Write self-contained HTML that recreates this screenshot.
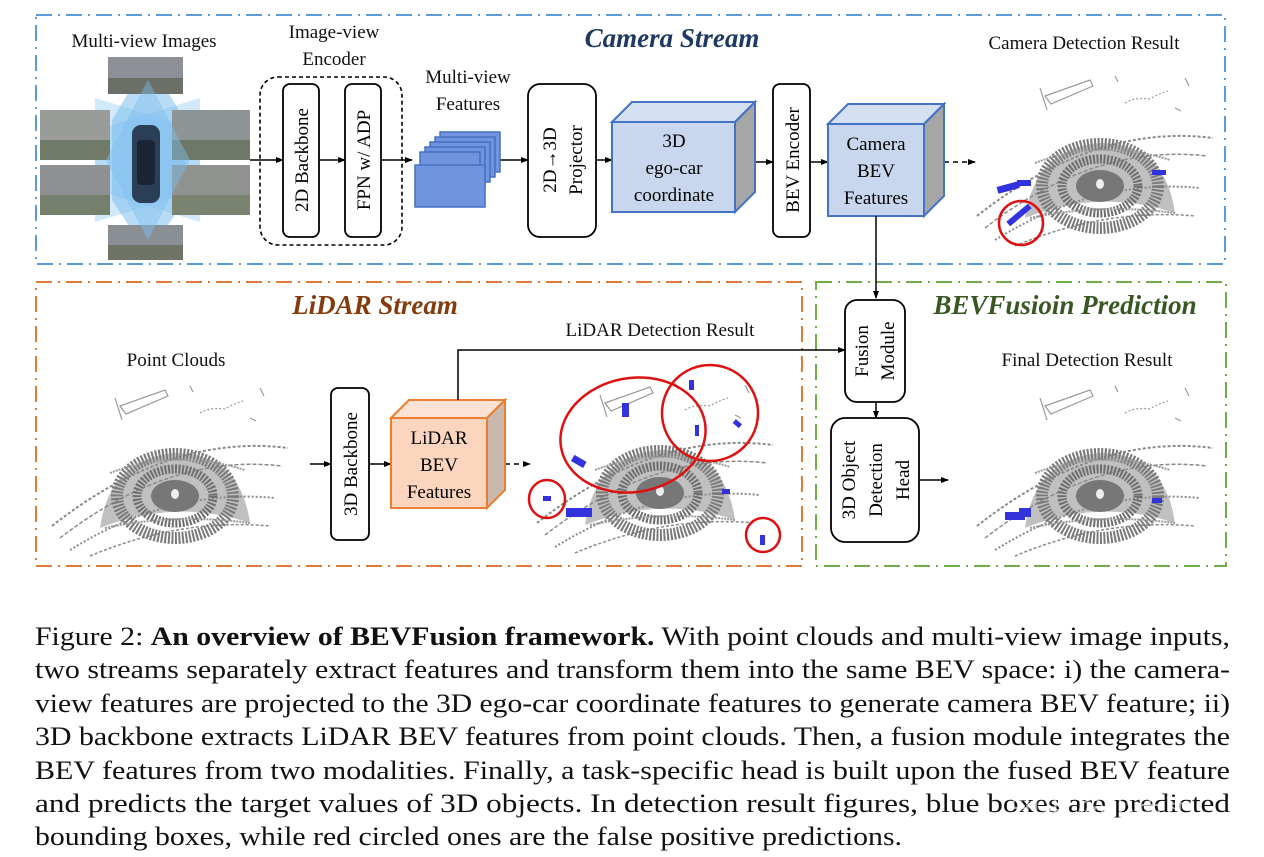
<!DOCTYPE html>
<html><head><meta charset="utf-8">
<style>
html,body{margin:0;padding:0;background:#fff;}
svg{display:block;font-family:"Liberation Serif","Times New Roman",Times,serif;}
svg text{font-family:"Liberation Serif","Times New Roman",Times,serif;}
</style></head>
<body>
<svg width="1264" height="857" viewBox="0 0 1264 857" xmlns="http://www.w3.org/2000/svg" font-family="Liberation Serif, Times New Roman, serif" style="font-family:'Liberation Serif','Times New Roman',Times,serif">
<defs>
<marker id="ah" markerWidth="8" markerHeight="8" refX="7" refY="4" orient="auto" markerUnits="userSpaceOnUse">
<path d="M0,1 L8,4 L0,7 z" fill="#000"/></marker>
<g id="pc">
 <g fill="none" stroke="#8a8a8a">
  <path d="M2,148 Q120,55 238,70" stroke-width="2" stroke-dasharray="3 2"/>
  <path d="M10,160 Q120,75 232,88" stroke-width="1.5" stroke-dasharray="4 2"/>
  <path d="M20,172 Q120,110 225,120" stroke-width="2" stroke-dasharray="2 2"/>
  <path d="M40,178 Q130,140 220,148" stroke-width="1.5" stroke-dasharray="3 2"/>
 </g>
 <path d="M50,150 Q60,80 125,75 Q190,75 200,145 Q125,120 50,150 z" fill="#8c8c8c" opacity="0.55"/>
 <ellipse cx="125" cy="118" rx="58" ry="42" fill="none" stroke="#7a7a7a" stroke-width="12" stroke-dasharray="2 1.5"/>
 <ellipse cx="125" cy="118" rx="38" ry="27" fill="none" stroke="#6e6e6e" stroke-width="9" stroke-dasharray="2 1.5"/>
 <ellipse cx="125" cy="118" rx="24" ry="16" fill="#777"/>
 <ellipse cx="125" cy="116" rx="4" ry="5" fill="#eee"/>
 <path d="M60,95 Q125,70 195,92" fill="none" stroke="#999" stroke-width="2" stroke-dasharray="2 1"/>
 <path d="M55,150 Q125,135 200,145" fill="none" stroke="#999" stroke-width="2" stroke-dasharray="2 1"/>
 <g fill="none" stroke="#999" stroke-width="1.2">
  <path d="M70,28 L115,12 L118,18 L76,36 z"/>
  <path d="M65,20 L72,42"/>
  <path d="M150,35 q10,-6 25,-4 q8,-5 18,-8" stroke-dasharray="2 2"/>
  <path d="M140,8 l3,6 M210,10 l4,8 M200,40 l6,3" />
 </g>
</g>
</defs>

<rect x="36" y="15" width="1189" height="249" fill="none" stroke="#5b9bd5" stroke-width="2" stroke-dasharray="16 6 2 6"/>
<rect x="36" y="282" width="766" height="284" fill="none" stroke="#e07b39" stroke-width="2" stroke-dasharray="16 6 2 6"/>
<rect x="816" y="282" width="410" height="284" fill="none" stroke="#70ad47" stroke-width="2" stroke-dasharray="16 6 2 6"/>

<text x="672" y="47" text-anchor="middle" font-size="27" font-weight="bold" font-style="italic" fill="#1f3864">Camera Stream</text>
<text x="375" y="314" text-anchor="middle" font-size="27" font-weight="bold" font-style="italic" fill="#843c0c">LiDAR Stream</text>
<text x="1065" y="314" text-anchor="middle" font-size="27" font-weight="bold" font-style="italic" fill="#385723">BEVFusioin Prediction</text>

<g font-size="19" fill="#111" text-anchor="middle">
<text x="144" y="47">Multi-view Images</text>
<text x="334" y="38">Image-view</text>
<text x="334" y="65">Encoder</text>
<text x="468" y="83">Multi-view</text>
<text x="468" y="110">Features</text>
<text x="1084" y="49">Camera Detection Result</text>
<text x="176" y="366">Point Clouds</text>
<text x="660" y="336">LiDAR Detection Result</text>
<text x="1087" y="366">Final Detection Result</text>
</g>

<g>
 <polygon points="148,60 185,120 185,200 148,255 112,200 112,120" fill="#7fbfef" opacity="0.55"/>
 <polygon points="95,98 200,130 200,190 95,222" fill="#7fbfef" opacity="0.35"/>
 <polygon points="200,98 95,130 95,190 200,222" fill="#7fbfef" opacity="0.35"/>
 <rect x="108" y="57" width="75" height="37" fill="#8c9096"/><rect x="108" y="78" width="75" height="16" fill="#6a7068"/>
 <rect x="40" y="110" width="70" height="50" fill="#9a9c9a"/><rect x="40" y="140" width="70" height="20" fill="#6f7a68"/>
 <rect x="40" y="165" width="70" height="50" fill="#8e9092"/><rect x="40" y="195" width="70" height="20" fill="#74806c"/>
 <rect x="172" y="110" width="78" height="50" fill="#8d9496"/><rect x="172" y="140" width="78" height="20" fill="#6d7868"/>
 <rect x="172" y="165" width="78" height="50" fill="#90928f"/><rect x="172" y="195" width="78" height="20" fill="#7a8270"/>
 <rect x="108" y="225" width="75" height="35" fill="#8a8f94"/><rect x="108" y="245" width="75" height="15" fill="#6f7466"/>
 <polygon points="148,80 190,160 148,240 106,160" fill="#7fbfef" opacity="0.45"/>
 <rect x="132" y="125" width="28" height="78" rx="9" fill="#2a3e55"/>
 <rect x="137" y="140" width="18" height="45" rx="4" fill="#1a2535"/>
</g>

<rect x="260" y="77" width="142" height="168" rx="18" fill="none" stroke="#000" stroke-width="1.6" stroke-dasharray="4 3"/>
<rect x="283" y="84" width="36" height="153" rx="7" fill="#fff" stroke="#000" stroke-width="1.8"/>
<rect x="345" y="84" width="36" height="153" rx="7" fill="#fff" stroke="#000" stroke-width="1.8"/>
<text transform="translate(308,160) rotate(-90)" text-anchor="middle" font-size="19">2D Backbone</text>
<text transform="translate(370,160) rotate(-90)" text-anchor="middle" font-size="19">FPN w/ ADP</text>

<g stroke="#000" stroke-width="1.5" marker-end="url(#ah)">
<line x1="250" y1="160" x2="283" y2="160"/>
<line x1="319" y1="160" x2="345" y2="160"/>
<line x1="381" y1="160" x2="412" y2="160"/>
<line x1="500" y1="160" x2="528" y2="160"/>
<line x1="596" y1="160" x2="612" y2="160"/>
<line x1="735" y1="162" x2="773" y2="162"/>
<line x1="810" y1="162" x2="828" y2="162"/>
<line x1="310" y1="464" x2="331" y2="464"/>
<line x1="369" y1="464" x2="391" y2="464"/>
<line x1="876" y1="402" x2="876" y2="418"/>
<line x1="919" y1="480" x2="948" y2="480"/>
</g>
<g stroke="#000" stroke-width="1.5" stroke-dasharray="5 4" marker-end="url(#ah)">
<line x1="944" y1="162" x2="975" y2="162"/>
<line x1="505" y1="464" x2="530" y2="464"/>
</g>

<g fill="#7094de" stroke="#4472c4" stroke-width="1.5">
<rect x="440" y="132" width="60" height="40"/>
<rect x="435" y="137" width="60" height="40"/>
<rect x="430" y="142" width="60" height="40"/>
<rect x="425" y="147" width="60" height="40"/>
<rect x="420" y="152" width="60" height="40"/>
<rect x="415" y="165" width="70" height="42"/>
</g>

<rect x="528" y="84" width="68" height="153" rx="12" fill="#fff" stroke="#000" stroke-width="1.8"/>
<text transform="translate(556,160) rotate(-90)" text-anchor="middle" font-size="19">2D→3D</text>
<text transform="translate(582,160) rotate(-90)" text-anchor="middle" font-size="19">Projector</text>

<g stroke="#4472c4" stroke-width="2">
<polygon points="612,122 632,102 755,102 735,122" fill="#d5e0f3"/>
<polygon points="735,122 755,102 755,192 735,212" fill="#a6a6a6"/>
<rect x="612" y="122" width="123" height="90" fill="#c9d7ee"/>
</g>
<g font-size="19" text-anchor="middle">
<text x="674" y="147">3D</text><text x="674" y="174">ego-car</text><text x="674" y="201">coordinate</text>
</g>

<rect x="773" y="84" width="37" height="153" rx="7" fill="#fff" stroke="#000" stroke-width="1.8"/>
<text transform="translate(799,160) rotate(-90)" text-anchor="middle" font-size="19">BEV Encoder</text>

<g stroke="#4472c4" stroke-width="2">
<polygon points="828,124 848,104 944,104 924,124" fill="#d5e0f3"/>
<polygon points="924,124 944,104 944,196 924,216" fill="#a6a6a6"/>
<rect x="828" y="124" width="96" height="92" fill="#c9d7ee"/>
</g>
<g font-size="19" text-anchor="middle">
<text x="876" y="150">Camera</text><text x="876" y="177">BEV</text><text x="876" y="204">Features</text>
</g>

<use href="#pc" transform="translate(975,68)"/>
<g fill="#3333dd">
<rect x="997" y="184" width="22" height="7" transform="rotate(-15 1008 187)"/>
<rect x="1017" y="180" width="14" height="6"/>
<rect x="1005" y="212" width="28" height="6" transform="rotate(-40 1019 215)"/>
<rect x="1152" y="170" width="14" height="5"/>
</g>
<circle cx="1021" cy="223" r="22" fill="none" stroke="#dd1111" stroke-width="2.5"/>

<line x1="876" y1="216" x2="876" y2="298" stroke="#000" stroke-width="1.5" marker-end="url(#ah)"/>

<rect x="845" y="300" width="60" height="102" rx="12" fill="#fff" stroke="#000" stroke-width="1.8"/>
<text transform="translate(868,351) rotate(-90)" text-anchor="middle" font-size="19">Fusion</text>
<text transform="translate(894,351) rotate(-90)" text-anchor="middle" font-size="19">Module</text>
<rect x="831" y="418" width="88" height="124" rx="14" fill="#fff" stroke="#000" stroke-width="1.8"/>
<text transform="translate(855,480) rotate(-90)" text-anchor="middle" font-size="19">3D Object</text>
<text transform="translate(882,480) rotate(-90)" text-anchor="middle" font-size="19">Detection</text>
<text transform="translate(909,480) rotate(-90)" text-anchor="middle" font-size="19">Head</text>

<use href="#pc" transform="translate(50,378)"/>
<rect x="331" y="388" width="38" height="152" rx="7" fill="#fff" stroke="#000" stroke-width="1.8"/>
<text transform="translate(357,464) rotate(-90)" text-anchor="middle" font-size="19">3D Backbone</text>
<g stroke="#ed7d31" stroke-width="2">
<polygon points="391,418 409,400 505,400 487,418" fill="#fbe2d2"/>
<polygon points="487,418 505,400 505,490 487,508" fill="#c9b8ad"/>
<rect x="391" y="418" width="96" height="90" fill="#fbd5bd"/>
</g>
<g font-size="19" text-anchor="middle">
<text x="439" y="444">LiDAR</text><text x="439" y="471">BEV</text><text x="439" y="498">Features</text>
</g>
<polyline points="458,400 458,350 845,350" fill="none" stroke="#000" stroke-width="1.5" marker-end="url(#ah)"/>

<use href="#pc" transform="translate(535,375)"/>
<g fill="#3333dd">
<rect x="622" y="403" width="7" height="14"/><rect x="689" y="380" width="5" height="10"/>
<rect x="735" y="420" width="5" height="8" transform="rotate(-50 737 424)"/>
<rect x="695" y="425" width="4" height="11"/>
<rect x="572" y="458" width="14" height="7" transform="rotate(30 579 461)"/>
<rect x="543" y="496" width="8" height="5"/>
<rect x="566" y="508" width="26" height="9"/>
<rect x="760" y="535" width="5" height="10"/>
<rect x="722" y="489" width="8" height="5"/>
</g>
<g fill="none" stroke="#dd1111" stroke-width="2.5">
<ellipse cx="633" cy="435" rx="73" ry="57" transform="rotate(-10 633 435)"/>
<circle cx="710" cy="413" r="48"/>
<ellipse cx="547" cy="499" rx="18" ry="19"/>
<circle cx="763" cy="535" r="17"/>
</g>

<use href="#pc" transform="translate(975,378)"/>
<g fill="#3333dd">
<rect x="1005" y="512" width="20" height="8"/><rect x="1019" y="508" width="12" height="9"/>
<rect x="1152" y="498" width="10" height="5"/>
</g>

<g font-size="26" fill="#111">
<text x="35" y="645" textLength="1195" lengthAdjust="spacingAndGlyphs">Figure 2: <tspan font-weight="bold">An overview of BEVFusion framework.</tspan> With point clouds and multi-view image inputs,</text>
<text x="35" y="678" textLength="1195" lengthAdjust="spacingAndGlyphs">two streams separately extract features and transform them into the same BEV space: i) the camera-</text>
<text x="35" y="712" textLength="1195" lengthAdjust="spacingAndGlyphs">view features are projected to the 3D ego-car coordinate features to generate camera BEV feature; ii)</text>
<text x="35" y="745" textLength="1195" lengthAdjust="spacingAndGlyphs">3D backbone extracts LiDAR BEV features from point clouds. Then, a fusion module integrates the</text>
<text x="35" y="779" textLength="1195" lengthAdjust="spacingAndGlyphs">BEV features from two modalities. Finally, a task-specific head is built upon the fused BEV feature</text>
<text x="35" y="812" textLength="1195" lengthAdjust="spacingAndGlyphs">and predicts the target values of 3D objects.  In detection result figures, blue boxes are predicted</text>
<text x="35" y="845" textLength="867" lengthAdjust="spacingAndGlyphs">bounding boxes, while red circled ones are the false positive predictions.</text>
</g>
<text x="1010" y="820" font-size="30" fill="#fff" opacity="0.6" style="font-family:'Noto Sans CJK SC',sans-serif">知乎 @小点雨</text>
</svg>
</body></html>
